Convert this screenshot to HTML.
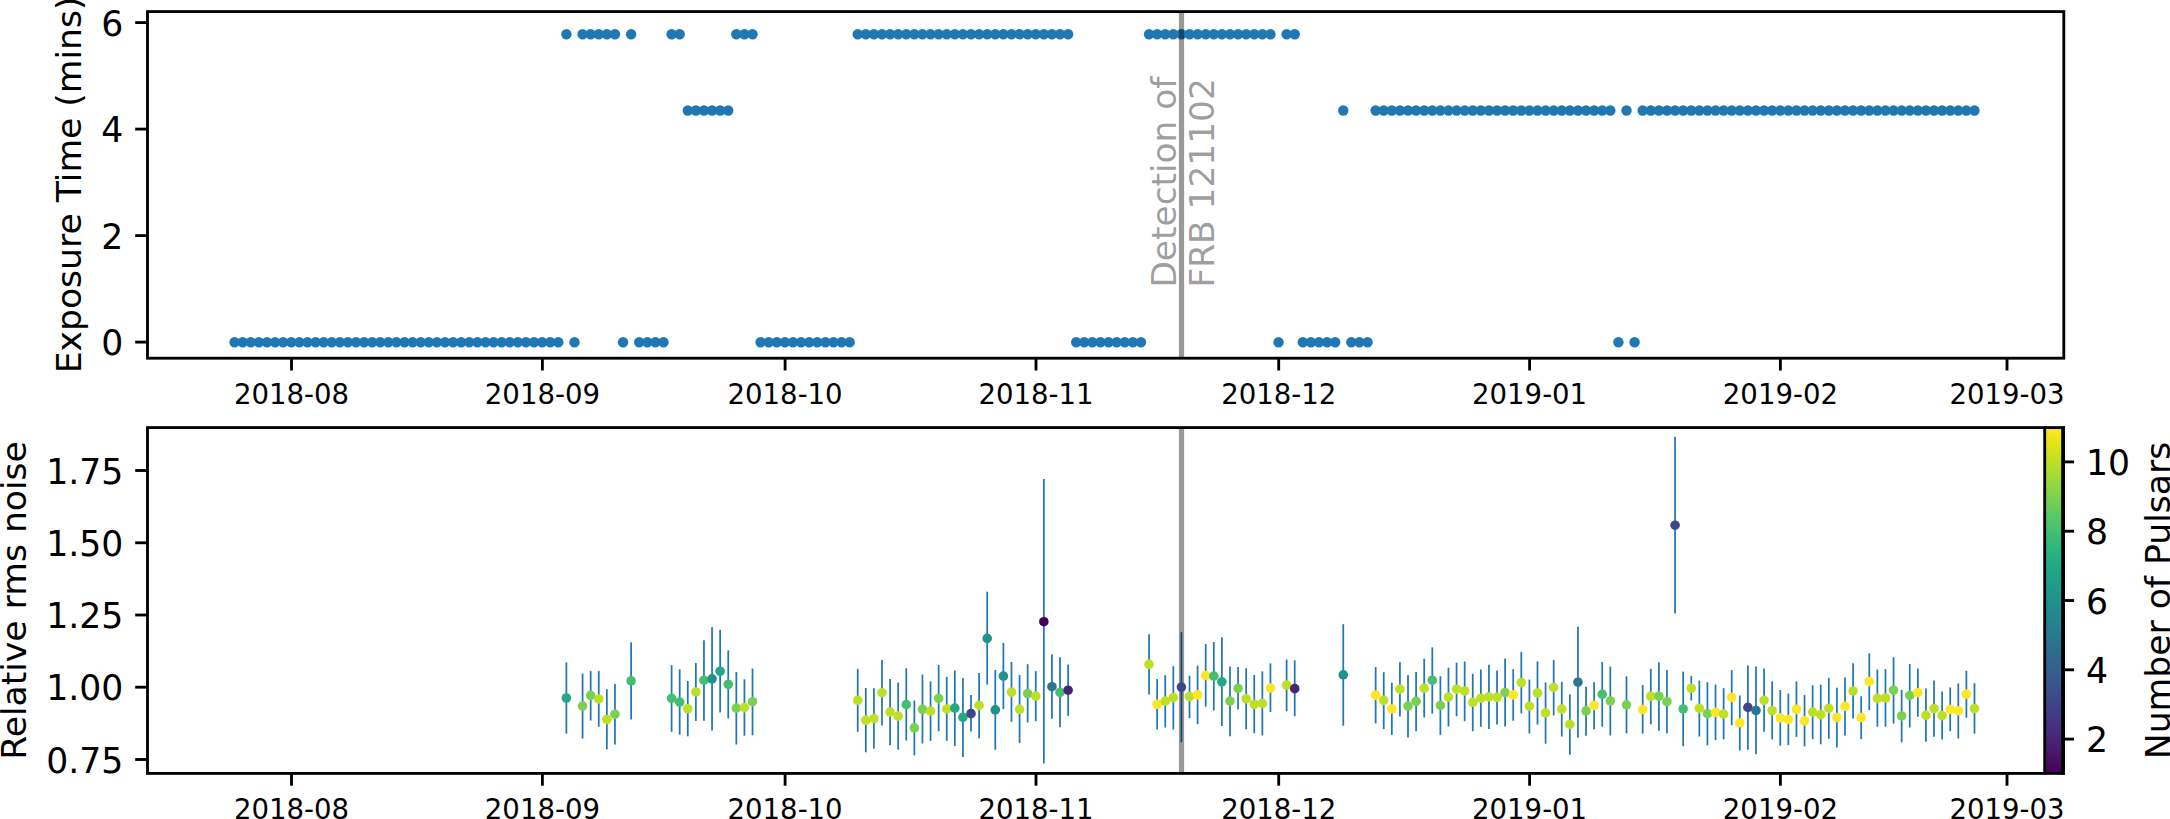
<!DOCTYPE html>
<html lang="en"><head><meta charset="utf-8"><title>Exposure time and relative rms noise</title>
<style>html,body{margin:0;padding:0;background:#fff}body{width:2170px;height:819px;overflow:hidden}svg{display:block}</style></head>
<body>
<svg width="2170" height="819" viewBox="0 0 2170 819" font-family="'DejaVu Sans', 'Liberation Sans', sans-serif">
<rect width="2170" height="819" fill="#fff"/>
<g fill="#1f77b4">
<circle cx="234.60" cy="342.2" r="5.2"/>
<circle cx="242.69" cy="342.2" r="5.2"/>
<circle cx="250.78" cy="342.2" r="5.2"/>
<circle cx="258.88" cy="342.2" r="5.2"/>
<circle cx="266.97" cy="342.2" r="5.2"/>
<circle cx="275.06" cy="342.2" r="5.2"/>
<circle cx="283.15" cy="342.2" r="5.2"/>
<circle cx="291.25" cy="342.2" r="5.2"/>
<circle cx="299.34" cy="342.2" r="5.2"/>
<circle cx="307.43" cy="342.2" r="5.2"/>
<circle cx="315.52" cy="342.2" r="5.2"/>
<circle cx="323.62" cy="342.2" r="5.2"/>
<circle cx="331.71" cy="342.2" r="5.2"/>
<circle cx="339.80" cy="342.2" r="5.2"/>
<circle cx="347.89" cy="342.2" r="5.2"/>
<circle cx="355.99" cy="342.2" r="5.2"/>
<circle cx="364.08" cy="342.2" r="5.2"/>
<circle cx="372.17" cy="342.2" r="5.2"/>
<circle cx="380.26" cy="342.2" r="5.2"/>
<circle cx="388.36" cy="342.2" r="5.2"/>
<circle cx="396.45" cy="342.2" r="5.2"/>
<circle cx="404.54" cy="342.2" r="5.2"/>
<circle cx="412.63" cy="342.2" r="5.2"/>
<circle cx="420.73" cy="342.2" r="5.2"/>
<circle cx="428.82" cy="342.2" r="5.2"/>
<circle cx="436.91" cy="342.2" r="5.2"/>
<circle cx="445.00" cy="342.2" r="5.2"/>
<circle cx="453.10" cy="342.2" r="5.2"/>
<circle cx="461.19" cy="342.2" r="5.2"/>
<circle cx="469.28" cy="342.2" r="5.2"/>
<circle cx="477.38" cy="342.2" r="5.2"/>
<circle cx="485.47" cy="342.2" r="5.2"/>
<circle cx="493.56" cy="342.2" r="5.2"/>
<circle cx="501.65" cy="342.2" r="5.2"/>
<circle cx="509.75" cy="342.2" r="5.2"/>
<circle cx="517.84" cy="342.2" r="5.2"/>
<circle cx="525.93" cy="342.2" r="5.2"/>
<circle cx="534.02" cy="342.2" r="5.2"/>
<circle cx="542.12" cy="342.2" r="5.2"/>
<circle cx="550.21" cy="342.2" r="5.2"/>
<circle cx="558.30" cy="342.2" r="5.2"/>
<circle cx="574.49" cy="342.2" r="5.2"/>
<circle cx="623.04" cy="342.2" r="5.2"/>
<circle cx="639.22" cy="342.2" r="5.2"/>
<circle cx="647.32" cy="342.2" r="5.2"/>
<circle cx="655.41" cy="342.2" r="5.2"/>
<circle cx="663.50" cy="342.2" r="5.2"/>
<circle cx="760.61" cy="342.2" r="5.2"/>
<circle cx="768.70" cy="342.2" r="5.2"/>
<circle cx="776.80" cy="342.2" r="5.2"/>
<circle cx="784.89" cy="342.2" r="5.2"/>
<circle cx="792.98" cy="342.2" r="5.2"/>
<circle cx="801.07" cy="342.2" r="5.2"/>
<circle cx="809.17" cy="342.2" r="5.2"/>
<circle cx="817.26" cy="342.2" r="5.2"/>
<circle cx="825.35" cy="342.2" r="5.2"/>
<circle cx="833.44" cy="342.2" r="5.2"/>
<circle cx="841.54" cy="342.2" r="5.2"/>
<circle cx="849.63" cy="342.2" r="5.2"/>
<circle cx="1076.22" cy="342.2" r="5.2"/>
<circle cx="1084.31" cy="342.2" r="5.2"/>
<circle cx="1092.40" cy="342.2" r="5.2"/>
<circle cx="1100.50" cy="342.2" r="5.2"/>
<circle cx="1108.59" cy="342.2" r="5.2"/>
<circle cx="1116.68" cy="342.2" r="5.2"/>
<circle cx="1124.77" cy="342.2" r="5.2"/>
<circle cx="1132.87" cy="342.2" r="5.2"/>
<circle cx="1140.96" cy="342.2" r="5.2"/>
<circle cx="1278.53" cy="342.2" r="5.2"/>
<circle cx="1302.81" cy="342.2" r="5.2"/>
<circle cx="1310.90" cy="342.2" r="5.2"/>
<circle cx="1318.99" cy="342.2" r="5.2"/>
<circle cx="1327.09" cy="342.2" r="5.2"/>
<circle cx="1335.18" cy="342.2" r="5.2"/>
<circle cx="1351.36" cy="342.2" r="5.2"/>
<circle cx="1359.46" cy="342.2" r="5.2"/>
<circle cx="1367.55" cy="342.2" r="5.2"/>
<circle cx="1618.42" cy="342.2" r="5.2"/>
<circle cx="1634.60" cy="342.2" r="5.2"/>
<circle cx="687.78" cy="110.5" r="5.2"/>
<circle cx="695.87" cy="110.5" r="5.2"/>
<circle cx="703.96" cy="110.5" r="5.2"/>
<circle cx="712.06" cy="110.5" r="5.2"/>
<circle cx="720.15" cy="110.5" r="5.2"/>
<circle cx="728.24" cy="110.5" r="5.2"/>
<circle cx="1343.27" cy="110.5" r="5.2"/>
<circle cx="1375.64" cy="110.5" r="5.2"/>
<circle cx="1383.73" cy="110.5" r="5.2"/>
<circle cx="1391.83" cy="110.5" r="5.2"/>
<circle cx="1399.92" cy="110.5" r="5.2"/>
<circle cx="1408.01" cy="110.5" r="5.2"/>
<circle cx="1416.10" cy="110.5" r="5.2"/>
<circle cx="1424.20" cy="110.5" r="5.2"/>
<circle cx="1432.29" cy="110.5" r="5.2"/>
<circle cx="1440.38" cy="110.5" r="5.2"/>
<circle cx="1448.47" cy="110.5" r="5.2"/>
<circle cx="1456.57" cy="110.5" r="5.2"/>
<circle cx="1464.66" cy="110.5" r="5.2"/>
<circle cx="1472.75" cy="110.5" r="5.2"/>
<circle cx="1480.84" cy="110.5" r="5.2"/>
<circle cx="1488.94" cy="110.5" r="5.2"/>
<circle cx="1497.03" cy="110.5" r="5.2"/>
<circle cx="1505.12" cy="110.5" r="5.2"/>
<circle cx="1513.21" cy="110.5" r="5.2"/>
<circle cx="1521.31" cy="110.5" r="5.2"/>
<circle cx="1529.40" cy="110.5" r="5.2"/>
<circle cx="1537.49" cy="110.5" r="5.2"/>
<circle cx="1545.58" cy="110.5" r="5.2"/>
<circle cx="1553.68" cy="110.5" r="5.2"/>
<circle cx="1561.77" cy="110.5" r="5.2"/>
<circle cx="1569.86" cy="110.5" r="5.2"/>
<circle cx="1577.95" cy="110.5" r="5.2"/>
<circle cx="1586.05" cy="110.5" r="5.2"/>
<circle cx="1594.14" cy="110.5" r="5.2"/>
<circle cx="1602.23" cy="110.5" r="5.2"/>
<circle cx="1610.32" cy="110.5" r="5.2"/>
<circle cx="1626.51" cy="110.5" r="5.2"/>
<circle cx="1642.69" cy="110.5" r="5.2"/>
<circle cx="1650.79" cy="110.5" r="5.2"/>
<circle cx="1658.88" cy="110.5" r="5.2"/>
<circle cx="1666.97" cy="110.5" r="5.2"/>
<circle cx="1675.06" cy="110.5" r="5.2"/>
<circle cx="1683.16" cy="110.5" r="5.2"/>
<circle cx="1691.25" cy="110.5" r="5.2"/>
<circle cx="1699.34" cy="110.5" r="5.2"/>
<circle cx="1707.43" cy="110.5" r="5.2"/>
<circle cx="1715.53" cy="110.5" r="5.2"/>
<circle cx="1723.62" cy="110.5" r="5.2"/>
<circle cx="1731.71" cy="110.5" r="5.2"/>
<circle cx="1739.80" cy="110.5" r="5.2"/>
<circle cx="1747.90" cy="110.5" r="5.2"/>
<circle cx="1755.99" cy="110.5" r="5.2"/>
<circle cx="1764.08" cy="110.5" r="5.2"/>
<circle cx="1772.17" cy="110.5" r="5.2"/>
<circle cx="1780.27" cy="110.5" r="5.2"/>
<circle cx="1788.36" cy="110.5" r="5.2"/>
<circle cx="1796.45" cy="110.5" r="5.2"/>
<circle cx="1804.54" cy="110.5" r="5.2"/>
<circle cx="1812.64" cy="110.5" r="5.2"/>
<circle cx="1820.73" cy="110.5" r="5.2"/>
<circle cx="1828.82" cy="110.5" r="5.2"/>
<circle cx="1836.91" cy="110.5" r="5.2"/>
<circle cx="1845.01" cy="110.5" r="5.2"/>
<circle cx="1853.10" cy="110.5" r="5.2"/>
<circle cx="1861.19" cy="110.5" r="5.2"/>
<circle cx="1869.28" cy="110.5" r="5.2"/>
<circle cx="1877.38" cy="110.5" r="5.2"/>
<circle cx="1885.47" cy="110.5" r="5.2"/>
<circle cx="1893.56" cy="110.5" r="5.2"/>
<circle cx="1901.65" cy="110.5" r="5.2"/>
<circle cx="1909.75" cy="110.5" r="5.2"/>
<circle cx="1917.84" cy="110.5" r="5.2"/>
<circle cx="1925.93" cy="110.5" r="5.2"/>
<circle cx="1934.02" cy="110.5" r="5.2"/>
<circle cx="1942.12" cy="110.5" r="5.2"/>
<circle cx="1950.21" cy="110.5" r="5.2"/>
<circle cx="1958.30" cy="110.5" r="5.2"/>
<circle cx="1966.39" cy="110.5" r="5.2"/>
<circle cx="1974.49" cy="110.5" r="5.2"/>
<circle cx="566.39" cy="34.2" r="5.2"/>
<circle cx="582.58" cy="34.2" r="5.2"/>
<circle cx="590.67" cy="34.2" r="5.2"/>
<circle cx="598.76" cy="34.2" r="5.2"/>
<circle cx="606.86" cy="34.2" r="5.2"/>
<circle cx="614.95" cy="34.2" r="5.2"/>
<circle cx="631.13" cy="34.2" r="5.2"/>
<circle cx="671.59" cy="34.2" r="5.2"/>
<circle cx="679.69" cy="34.2" r="5.2"/>
<circle cx="736.33" cy="34.2" r="5.2"/>
<circle cx="744.43" cy="34.2" r="5.2"/>
<circle cx="752.52" cy="34.2" r="5.2"/>
<circle cx="857.72" cy="34.2" r="5.2"/>
<circle cx="865.81" cy="34.2" r="5.2"/>
<circle cx="873.91" cy="34.2" r="5.2"/>
<circle cx="882.00" cy="34.2" r="5.2"/>
<circle cx="890.09" cy="34.2" r="5.2"/>
<circle cx="898.18" cy="34.2" r="5.2"/>
<circle cx="906.28" cy="34.2" r="5.2"/>
<circle cx="914.37" cy="34.2" r="5.2"/>
<circle cx="922.46" cy="34.2" r="5.2"/>
<circle cx="930.55" cy="34.2" r="5.2"/>
<circle cx="938.65" cy="34.2" r="5.2"/>
<circle cx="946.74" cy="34.2" r="5.2"/>
<circle cx="954.83" cy="34.2" r="5.2"/>
<circle cx="962.92" cy="34.2" r="5.2"/>
<circle cx="971.02" cy="34.2" r="5.2"/>
<circle cx="979.11" cy="34.2" r="5.2"/>
<circle cx="987.20" cy="34.2" r="5.2"/>
<circle cx="995.29" cy="34.2" r="5.2"/>
<circle cx="1003.39" cy="34.2" r="5.2"/>
<circle cx="1011.48" cy="34.2" r="5.2"/>
<circle cx="1019.57" cy="34.2" r="5.2"/>
<circle cx="1027.66" cy="34.2" r="5.2"/>
<circle cx="1035.76" cy="34.2" r="5.2"/>
<circle cx="1043.85" cy="34.2" r="5.2"/>
<circle cx="1051.94" cy="34.2" r="5.2"/>
<circle cx="1060.03" cy="34.2" r="5.2"/>
<circle cx="1068.13" cy="34.2" r="5.2"/>
<circle cx="1149.05" cy="34.2" r="5.2"/>
<circle cx="1157.14" cy="34.2" r="5.2"/>
<circle cx="1165.24" cy="34.2" r="5.2"/>
<circle cx="1173.33" cy="34.2" r="5.2"/>
<circle cx="1181.42" cy="34.2" r="5.2"/>
<circle cx="1189.51" cy="34.2" r="5.2"/>
<circle cx="1197.61" cy="34.2" r="5.2"/>
<circle cx="1205.70" cy="34.2" r="5.2"/>
<circle cx="1213.79" cy="34.2" r="5.2"/>
<circle cx="1221.88" cy="34.2" r="5.2"/>
<circle cx="1229.98" cy="34.2" r="5.2"/>
<circle cx="1238.07" cy="34.2" r="5.2"/>
<circle cx="1246.16" cy="34.2" r="5.2"/>
<circle cx="1254.25" cy="34.2" r="5.2"/>
<circle cx="1262.35" cy="34.2" r="5.2"/>
<circle cx="1270.44" cy="34.2" r="5.2"/>
<circle cx="1286.62" cy="34.2" r="5.2"/>
<circle cx="1294.72" cy="34.2" r="5.2"/>
</g>
<line x1="1181.5" y1="11.6" x2="1181.5" y2="358.2" stroke="#000" stroke-opacity="0.4" stroke-width="5.2"/>
<g fill="#000" fill-opacity="0.4" font-size="34.38">
<text transform="translate(1175.6 287.6) rotate(-90)">Detection of</text>
<text transform="translate(1213.7 287.6) rotate(-90)">FRB 121102</text>
</g>
<g stroke="#1f77b4" stroke-width="1.75">
<line x1="566.39" y1="662.3" x2="566.39" y2="733.6"/>
<line x1="582.58" y1="673.6" x2="582.58" y2="738.6"/>
<line x1="590.67" y1="671.1" x2="590.67" y2="720.5"/>
<line x1="598.76" y1="671.1" x2="598.76" y2="726.7"/>
<line x1="606.86" y1="689.2" x2="606.86" y2="749.4"/>
<line x1="614.95" y1="684.1" x2="614.95" y2="744.5"/>
<line x1="631.13" y1="642.3" x2="631.13" y2="719.5"/>
<line x1="671.59" y1="665.2" x2="671.59" y2="731.8"/>
<line x1="679.69" y1="669.3" x2="679.69" y2="734.7"/>
<line x1="687.78" y1="681.0" x2="687.78" y2="736.3"/>
<line x1="695.87" y1="663.0" x2="695.87" y2="720.9"/>
<line x1="703.96" y1="640.2" x2="703.96" y2="720.7"/>
<line x1="712.06" y1="627.3" x2="712.06" y2="730.4"/>
<line x1="720.15" y1="629.8" x2="720.15" y2="712.5"/>
<line x1="728.24" y1="650.4" x2="728.24" y2="718.5"/>
<line x1="736.33" y1="672.0" x2="736.33" y2="744.5"/>
<line x1="744.43" y1="679.3" x2="744.43" y2="735.7"/>
<line x1="752.52" y1="668.5" x2="752.52" y2="735.3"/>
<line x1="857.72" y1="668.9" x2="857.72" y2="731.8"/>
<line x1="865.81" y1="688.0" x2="865.81" y2="752.3"/>
<line x1="873.91" y1="688.2" x2="873.91" y2="748.8"/>
<line x1="882.00" y1="659.9" x2="882.00" y2="725.4"/>
<line x1="890.09" y1="679.1" x2="890.09" y2="745.3"/>
<line x1="898.18" y1="682.6" x2="898.18" y2="749.6"/>
<line x1="906.28" y1="668.3" x2="906.28" y2="740.6"/>
<line x1="914.37" y1="700.5" x2="914.37" y2="755.4"/>
<line x1="922.46" y1="674.6" x2="922.46" y2="743.5"/>
<line x1="930.55" y1="681.4" x2="930.55" y2="740.8"/>
<line x1="938.65" y1="665.0" x2="938.65" y2="731.2"/>
<line x1="946.74" y1="676.9" x2="946.74" y2="740.8"/>
<line x1="954.83" y1="670.5" x2="954.83" y2="746.1"/>
<line x1="962.92" y1="677.9" x2="962.92" y2="757.0"/>
<line x1="971.02" y1="695.1" x2="971.02" y2="731.6"/>
<line x1="979.11" y1="673.0" x2="979.11" y2="738.2"/>
<line x1="987.20" y1="591.7" x2="987.20" y2="684.5"/>
<line x1="995.29" y1="669.9" x2="995.29" y2="749.8"/>
<line x1="1003.39" y1="642.9" x2="1003.39" y2="709.1"/>
<line x1="1011.48" y1="661.9" x2="1011.48" y2="721.8"/>
<line x1="1019.57" y1="675.0" x2="1019.57" y2="743.1"/>
<line x1="1027.66" y1="664.2" x2="1027.66" y2="722.4"/>
<line x1="1035.76" y1="671.2" x2="1035.76" y2="721.2"/>
<line x1="1043.85" y1="479.1" x2="1043.85" y2="763.4"/>
<line x1="1051.94" y1="654.6" x2="1051.94" y2="718.7"/>
<line x1="1060.03" y1="657.2" x2="1060.03" y2="727.3"/>
<line x1="1068.13" y1="664.6" x2="1068.13" y2="715.8"/>
<line x1="1149.05" y1="634.3" x2="1149.05" y2="694.5"/>
<line x1="1157.14" y1="679.1" x2="1157.14" y2="729.5"/>
<line x1="1165.24" y1="675.2" x2="1165.24" y2="727.5"/>
<line x1="1173.33" y1="666.2" x2="1173.33" y2="729.6"/>
<line x1="1181.42" y1="632.2" x2="1181.42" y2="742.3"/>
<line x1="1189.51" y1="675.7" x2="1189.51" y2="718.1"/>
<line x1="1197.61" y1="665.6" x2="1197.61" y2="724.2"/>
<line x1="1205.70" y1="644.1" x2="1205.70" y2="706.6"/>
<line x1="1213.79" y1="642.0" x2="1213.79" y2="710.5"/>
<line x1="1221.88" y1="637.3" x2="1221.88" y2="726.1"/>
<line x1="1229.98" y1="666.6" x2="1229.98" y2="736.3"/>
<line x1="1238.07" y1="667.0" x2="1238.07" y2="709.5"/>
<line x1="1246.16" y1="668.3" x2="1246.16" y2="729.3"/>
<line x1="1254.25" y1="675.0" x2="1254.25" y2="733.2"/>
<line x1="1262.35" y1="671.4" x2="1262.35" y2="735.5"/>
<line x1="1270.44" y1="663.4" x2="1270.44" y2="712.1"/>
<line x1="1286.62" y1="659.5" x2="1286.62" y2="711.3"/>
<line x1="1294.72" y1="660.3" x2="1294.72" y2="716.2"/>
<line x1="1343.27" y1="624.2" x2="1343.27" y2="725.7"/>
<line x1="1375.64" y1="667.0" x2="1375.64" y2="723.4"/>
<line x1="1383.73" y1="672.2" x2="1383.73" y2="729.1"/>
<line x1="1391.83" y1="682.6" x2="1391.83" y2="734.9"/>
<line x1="1399.92" y1="662.3" x2="1399.92" y2="716.6"/>
<line x1="1408.01" y1="675.0" x2="1408.01" y2="737.5"/>
<line x1="1416.10" y1="672.0" x2="1416.10" y2="731.2"/>
<line x1="1424.20" y1="658.8" x2="1424.20" y2="717.5"/>
<line x1="1432.29" y1="647.4" x2="1432.29" y2="713.6"/>
<line x1="1440.38" y1="676.3" x2="1440.38" y2="734.9"/>
<line x1="1448.47" y1="667.7" x2="1448.47" y2="726.5"/>
<line x1="1456.57" y1="662.7" x2="1456.57" y2="716.2"/>
<line x1="1464.66" y1="661.5" x2="1464.66" y2="721.1"/>
<line x1="1472.75" y1="673.8" x2="1472.75" y2="731.2"/>
<line x1="1480.84" y1="669.5" x2="1480.84" y2="726.7"/>
<line x1="1488.94" y1="664.8" x2="1488.94" y2="729.1"/>
<line x1="1497.03" y1="670.5" x2="1497.03" y2="724.6"/>
<line x1="1505.12" y1="658.6" x2="1505.12" y2="726.5"/>
<line x1="1513.21" y1="669.1" x2="1513.21" y2="720.7"/>
<line x1="1521.31" y1="651.9" x2="1521.31" y2="713.4"/>
<line x1="1529.40" y1="679.6" x2="1529.40" y2="733.4"/>
<line x1="1537.49" y1="661.3" x2="1537.49" y2="724.6"/>
<line x1="1545.58" y1="682.4" x2="1545.58" y2="743.7"/>
<line x1="1553.68" y1="660.1" x2="1553.68" y2="715.4"/>
<line x1="1561.77" y1="681.8" x2="1561.77" y2="736.5"/>
<line x1="1569.86" y1="694.3" x2="1569.86" y2="754.8"/>
<line x1="1577.95" y1="626.7" x2="1577.95" y2="737.7"/>
<line x1="1586.05" y1="686.7" x2="1586.05" y2="735.7"/>
<line x1="1594.14" y1="682.2" x2="1594.14" y2="729.3"/>
<line x1="1602.23" y1="662.1" x2="1602.23" y2="726.7"/>
<line x1="1610.32" y1="666.6" x2="1610.32" y2="735.5"/>
<line x1="1626.51" y1="676.3" x2="1626.51" y2="733.4"/>
<line x1="1642.69" y1="685.1" x2="1642.69" y2="733.6"/>
<line x1="1650.79" y1="668.7" x2="1650.79" y2="724.2"/>
<line x1="1658.88" y1="662.3" x2="1658.88" y2="730.8"/>
<line x1="1666.97" y1="670.1" x2="1666.97" y2="733.4"/>
<line x1="1675.06" y1="436.8" x2="1675.06" y2="613.5"/>
<line x1="1683.16" y1="671.6" x2="1683.16" y2="746.2"/>
<line x1="1691.25" y1="676.1" x2="1691.25" y2="700.4"/>
<line x1="1699.34" y1="680.6" x2="1699.34" y2="736.5"/>
<line x1="1707.43" y1="682.2" x2="1707.43" y2="745.3"/>
<line x1="1715.53" y1="684.5" x2="1715.53" y2="740.2"/>
<line x1="1723.62" y1="688.2" x2="1723.62" y2="739.4"/>
<line x1="1731.71" y1="670.1" x2="1731.71" y2="725.2"/>
<line x1="1739.80" y1="695.5" x2="1739.80" y2="750.4"/>
<line x1="1747.90" y1="665.4" x2="1747.90" y2="749.8"/>
<line x1="1755.99" y1="666.6" x2="1755.99" y2="754.3"/>
<line x1="1764.08" y1="668.5" x2="1764.08" y2="731.8"/>
<line x1="1772.17" y1="681.4" x2="1772.17" y2="739.4"/>
<line x1="1780.27" y1="690.0" x2="1780.27" y2="745.7"/>
<line x1="1788.36" y1="693.5" x2="1788.36" y2="745.1"/>
<line x1="1796.45" y1="681.4" x2="1796.45" y2="736.9"/>
<line x1="1804.54" y1="695.1" x2="1804.54" y2="746.4"/>
<line x1="1812.64" y1="685.3" x2="1812.64" y2="739.2"/>
<line x1="1820.73" y1="684.7" x2="1820.73" y2="744.3"/>
<line x1="1828.82" y1="677.9" x2="1828.82" y2="738.8"/>
<line x1="1836.91" y1="687.7" x2="1836.91" y2="747.4"/>
<line x1="1845.01" y1="677.5" x2="1845.01" y2="735.5"/>
<line x1="1853.10" y1="663.2" x2="1853.10" y2="718.5"/>
<line x1="1861.19" y1="696.2" x2="1861.19" y2="739.0"/>
<line x1="1869.28" y1="653.3" x2="1869.28" y2="710.1"/>
<line x1="1877.38" y1="669.5" x2="1877.38" y2="726.7"/>
<line x1="1885.47" y1="669.1" x2="1885.47" y2="726.7"/>
<line x1="1893.56" y1="657.2" x2="1893.56" y2="723.6"/>
<line x1="1901.65" y1="689.8" x2="1901.65" y2="742.3"/>
<line x1="1909.75" y1="664.0" x2="1909.75" y2="727.5"/>
<line x1="1917.84" y1="668.5" x2="1917.84" y2="716.8"/>
<line x1="1925.93" y1="688.6" x2="1925.93" y2="741.8"/>
<line x1="1934.02" y1="680.4" x2="1934.02" y2="736.7"/>
<line x1="1942.12" y1="691.6" x2="1942.12" y2="739.4"/>
<line x1="1950.21" y1="687.5" x2="1950.21" y2="731.2"/>
<line x1="1958.30" y1="683.4" x2="1958.30" y2="738.4"/>
<line x1="1966.39" y1="670.7" x2="1966.39" y2="717.7"/>
<line x1="1974.49" y1="683.2" x2="1974.49" y2="733.6"/>
</g>
<line x1="1181.5" y1="427.6" x2="1181.5" y2="773.4" stroke="#000" stroke-opacity="0.4" stroke-width="5.2"/>
<circle cx="566.39" cy="698.01" r="4.8" fill="#22a884"/>
<circle cx="582.58" cy="706.02" r="4.8" fill="#7ad151"/>
<circle cx="590.67" cy="695.47" r="4.8" fill="#7ad151"/>
<circle cx="598.76" cy="698.98" r="4.8" fill="#bddf26"/>
<circle cx="606.86" cy="719.49" r="4.8" fill="#bddf26"/>
<circle cx="614.95" cy="714.22" r="4.8" fill="#7ad151"/>
<circle cx="631.13" cy="680.82" r="4.8" fill="#44bf70"/>
<circle cx="671.59" cy="698.40" r="4.8" fill="#44bf70"/>
<circle cx="679.69" cy="702.11" r="4.8" fill="#44bf70"/>
<circle cx="687.78" cy="708.75" r="4.8" fill="#bddf26"/>
<circle cx="695.87" cy="691.95" r="4.8" fill="#bddf26"/>
<circle cx="703.96" cy="680.23" r="4.8" fill="#44bf70"/>
<circle cx="712.06" cy="678.87" r="4.8" fill="#21918c"/>
<circle cx="720.15" cy="671.25" r="4.8" fill="#22a884"/>
<circle cx="728.24" cy="684.34" r="4.8" fill="#44bf70"/>
<circle cx="736.33" cy="708.16" r="4.8" fill="#7ad151"/>
<circle cx="744.43" cy="707.58" r="4.8" fill="#bddf26"/>
<circle cx="752.52" cy="701.72" r="4.8" fill="#7ad151"/>
<circle cx="857.72" cy="700.35" r="4.8" fill="#bddf26"/>
<circle cx="865.81" cy="720.27" r="4.8" fill="#bddf26"/>
<circle cx="873.91" cy="718.52" r="4.8" fill="#bddf26"/>
<circle cx="882.00" cy="692.73" r="4.8" fill="#bddf26"/>
<circle cx="890.09" cy="712.07" r="4.8" fill="#bddf26"/>
<circle cx="898.18" cy="716.17" r="4.8" fill="#bddf26"/>
<circle cx="906.28" cy="704.65" r="4.8" fill="#44bf70"/>
<circle cx="914.37" cy="727.89" r="4.8" fill="#7ad151"/>
<circle cx="922.46" cy="709.34" r="4.8" fill="#7ad151"/>
<circle cx="930.55" cy="711.09" r="4.8" fill="#bddf26"/>
<circle cx="938.65" cy="698.40" r="4.8" fill="#7ad151"/>
<circle cx="946.74" cy="708.95" r="4.8" fill="#bddf26"/>
<circle cx="954.83" cy="708.16" r="4.8" fill="#22a884"/>
<circle cx="962.92" cy="717.34" r="4.8" fill="#22a884"/>
<circle cx="971.02" cy="713.63" r="4.8" fill="#414487"/>
<circle cx="979.11" cy="705.43" r="4.8" fill="#bddf26"/>
<circle cx="987.20" cy="638.40" r="4.8" fill="#21918c"/>
<circle cx="995.29" cy="709.92" r="4.8" fill="#21918c"/>
<circle cx="1003.39" cy="676.13" r="4.8" fill="#21918c"/>
<circle cx="1011.48" cy="692.15" r="4.8" fill="#bddf26"/>
<circle cx="1019.57" cy="709.34" r="4.8" fill="#bddf26"/>
<circle cx="1027.66" cy="693.52" r="4.8" fill="#7ad151"/>
<circle cx="1035.76" cy="696.05" r="4.8" fill="#bddf26"/>
<circle cx="1043.85" cy="621.70" r="4.8" fill="#440154"/>
<circle cx="1051.94" cy="686.68" r="4.8" fill="#2a788e"/>
<circle cx="1060.03" cy="692.34" r="4.8" fill="#44bf70"/>
<circle cx="1068.13" cy="690.20" r="4.8" fill="#482475"/>
<circle cx="1149.05" cy="664.41" r="4.8" fill="#bddf26"/>
<circle cx="1157.14" cy="704.26" r="4.8" fill="#fde725"/>
<circle cx="1165.24" cy="701.13" r="4.8" fill="#bddf26"/>
<circle cx="1173.33" cy="697.62" r="4.8" fill="#bddf26"/>
<circle cx="1181.42" cy="687.07" r="4.8" fill="#414487"/>
<circle cx="1189.51" cy="696.64" r="4.8" fill="#bddf26"/>
<circle cx="1197.61" cy="694.88" r="4.8" fill="#fde725"/>
<circle cx="1205.70" cy="675.55" r="4.8" fill="#fde725"/>
<circle cx="1213.79" cy="676.13" r="4.8" fill="#44bf70"/>
<circle cx="1221.88" cy="681.80" r="4.8" fill="#22a884"/>
<circle cx="1229.98" cy="701.13" r="4.8" fill="#7ad151"/>
<circle cx="1238.07" cy="688.44" r="4.8" fill="#7ad151"/>
<circle cx="1246.16" cy="698.79" r="4.8" fill="#bddf26"/>
<circle cx="1254.25" cy="704.26" r="4.8" fill="#bddf26"/>
<circle cx="1262.35" cy="703.48" r="4.8" fill="#bddf26"/>
<circle cx="1270.44" cy="688.05" r="4.8" fill="#fde725"/>
<circle cx="1286.62" cy="685.12" r="4.8" fill="#bddf26"/>
<circle cx="1294.72" cy="688.63" r="4.8" fill="#482475"/>
<circle cx="1343.27" cy="674.77" r="4.8" fill="#21918c"/>
<circle cx="1375.64" cy="695.08" r="4.8" fill="#fde725"/>
<circle cx="1383.73" cy="700.35" r="4.8" fill="#bddf26"/>
<circle cx="1391.83" cy="708.95" r="4.8" fill="#fde725"/>
<circle cx="1399.92" cy="689.22" r="4.8" fill="#bddf26"/>
<circle cx="1408.01" cy="706.02" r="4.8" fill="#7ad151"/>
<circle cx="1416.10" cy="701.33" r="4.8" fill="#7ad151"/>
<circle cx="1424.20" cy="688.24" r="4.8" fill="#bddf26"/>
<circle cx="1432.29" cy="680.23" r="4.8" fill="#44bf70"/>
<circle cx="1440.38" cy="705.43" r="4.8" fill="#7ad151"/>
<circle cx="1448.47" cy="697.03" r="4.8" fill="#bddf26"/>
<circle cx="1456.57" cy="689.22" r="4.8" fill="#bddf26"/>
<circle cx="1464.66" cy="690.98" r="4.8" fill="#bddf26"/>
<circle cx="1472.75" cy="702.30" r="4.8" fill="#bddf26"/>
<circle cx="1480.84" cy="698.20" r="4.8" fill="#bddf26"/>
<circle cx="1488.94" cy="696.84" r="4.8" fill="#bddf26"/>
<circle cx="1497.03" cy="697.42" r="4.8" fill="#bddf26"/>
<circle cx="1505.12" cy="692.54" r="4.8" fill="#7ad151"/>
<circle cx="1513.21" cy="694.88" r="4.8" fill="#fde725"/>
<circle cx="1521.31" cy="682.58" r="4.8" fill="#bddf26"/>
<circle cx="1529.40" cy="706.21" r="4.8" fill="#bddf26"/>
<circle cx="1537.49" cy="692.93" r="4.8" fill="#bddf26"/>
<circle cx="1545.58" cy="712.85" r="4.8" fill="#bddf26"/>
<circle cx="1553.68" cy="687.46" r="4.8" fill="#bddf26"/>
<circle cx="1561.77" cy="709.14" r="4.8" fill="#bddf26"/>
<circle cx="1569.86" cy="724.38" r="4.8" fill="#bddf26"/>
<circle cx="1577.95" cy="682.19" r="4.8" fill="#2a788e"/>
<circle cx="1586.05" cy="710.90" r="4.8" fill="#7ad151"/>
<circle cx="1594.14" cy="705.43" r="4.8" fill="#fde725"/>
<circle cx="1602.23" cy="694.30" r="4.8" fill="#44bf70"/>
<circle cx="1610.32" cy="700.94" r="4.8" fill="#7ad151"/>
<circle cx="1626.51" cy="704.84" r="4.8" fill="#7ad151"/>
<circle cx="1642.69" cy="709.53" r="4.8" fill="#fde725"/>
<circle cx="1650.79" cy="696.25" r="4.8" fill="#bddf26"/>
<circle cx="1658.88" cy="696.25" r="4.8" fill="#7ad151"/>
<circle cx="1666.97" cy="701.72" r="4.8" fill="#7ad151"/>
<circle cx="1675.06" cy="525.20" r="4.8" fill="#414487"/>
<circle cx="1683.16" cy="708.95" r="4.8" fill="#44bf70"/>
<circle cx="1691.25" cy="688.24" r="4.8" fill="#bddf26"/>
<circle cx="1699.34" cy="708.36" r="4.8" fill="#bddf26"/>
<circle cx="1707.43" cy="713.63" r="4.8" fill="#7ad151"/>
<circle cx="1715.53" cy="712.27" r="4.8" fill="#fde725"/>
<circle cx="1723.62" cy="714.02" r="4.8" fill="#bddf26"/>
<circle cx="1731.71" cy="697.42" r="4.8" fill="#fde725"/>
<circle cx="1739.80" cy="722.81" r="4.8" fill="#fde725"/>
<circle cx="1747.90" cy="707.38" r="4.8" fill="#414487"/>
<circle cx="1755.99" cy="710.51" r="4.8" fill="#2a788e"/>
<circle cx="1764.08" cy="700.35" r="4.8" fill="#bddf26"/>
<circle cx="1772.17" cy="710.51" r="4.8" fill="#bddf26"/>
<circle cx="1780.27" cy="717.93" r="4.8" fill="#fde725"/>
<circle cx="1788.36" cy="719.49" r="4.8" fill="#fde725"/>
<circle cx="1796.45" cy="709.34" r="4.8" fill="#fde725"/>
<circle cx="1804.54" cy="720.86" r="4.8" fill="#fde725"/>
<circle cx="1812.64" cy="712.07" r="4.8" fill="#bddf26"/>
<circle cx="1820.73" cy="714.61" r="4.8" fill="#bddf26"/>
<circle cx="1828.82" cy="708.36" r="4.8" fill="#bddf26"/>
<circle cx="1836.91" cy="717.54" r="4.8" fill="#fde725"/>
<circle cx="1845.01" cy="706.41" r="4.8" fill="#fde725"/>
<circle cx="1853.10" cy="690.98" r="4.8" fill="#bddf26"/>
<circle cx="1861.19" cy="717.54" r="4.8" fill="#fde725"/>
<circle cx="1869.28" cy="681.60" r="4.8" fill="#fde725"/>
<circle cx="1877.38" cy="698.40" r="4.8" fill="#bddf26"/>
<circle cx="1885.47" cy="698.01" r="4.8" fill="#bddf26"/>
<circle cx="1893.56" cy="690.20" r="4.8" fill="#7ad151"/>
<circle cx="1901.65" cy="715.98" r="4.8" fill="#7ad151"/>
<circle cx="1909.75" cy="695.47" r="4.8" fill="#7ad151"/>
<circle cx="1917.84" cy="692.73" r="4.8" fill="#fde725"/>
<circle cx="1925.93" cy="715.39" r="4.8" fill="#bddf26"/>
<circle cx="1934.02" cy="708.55" r="4.8" fill="#bddf26"/>
<circle cx="1942.12" cy="715.59" r="4.8" fill="#bddf26"/>
<circle cx="1950.21" cy="709.53" r="4.8" fill="#fde725"/>
<circle cx="1958.30" cy="710.70" r="4.8" fill="#fde725"/>
<circle cx="1966.39" cy="694.10" r="4.8" fill="#fde725"/>
<circle cx="1974.49" cy="708.55" r="4.8" fill="#bddf26"/>
<defs><linearGradient id="vg" x1="0" y1="1" x2="0" y2="0">
<stop offset="0.000%" stop-color="#440154"/>
<stop offset="3.125%" stop-color="#470d60"/>
<stop offset="6.250%" stop-color="#48186a"/>
<stop offset="9.375%" stop-color="#482374"/>
<stop offset="12.500%" stop-color="#472d7b"/>
<stop offset="15.625%" stop-color="#453781"/>
<stop offset="18.750%" stop-color="#424086"/>
<stop offset="21.875%" stop-color="#3e4989"/>
<stop offset="25.000%" stop-color="#3b528b"/>
<stop offset="28.125%" stop-color="#375b8d"/>
<stop offset="31.250%" stop-color="#33638d"/>
<stop offset="34.375%" stop-color="#2f6b8e"/>
<stop offset="37.500%" stop-color="#2c728e"/>
<stop offset="40.625%" stop-color="#297a8e"/>
<stop offset="43.750%" stop-color="#26828e"/>
<stop offset="46.875%" stop-color="#23898e"/>
<stop offset="50.000%" stop-color="#21918c"/>
<stop offset="53.125%" stop-color="#1f988b"/>
<stop offset="56.250%" stop-color="#1fa088"/>
<stop offset="59.375%" stop-color="#22a785"/>
<stop offset="62.500%" stop-color="#28ae80"/>
<stop offset="65.625%" stop-color="#32b67a"/>
<stop offset="68.750%" stop-color="#3fbc73"/>
<stop offset="71.875%" stop-color="#4ec36b"/>
<stop offset="75.000%" stop-color="#5ec962"/>
<stop offset="78.125%" stop-color="#70cf57"/>
<stop offset="81.250%" stop-color="#84d44b"/>
<stop offset="84.375%" stop-color="#98d83e"/>
<stop offset="87.500%" stop-color="#addc30"/>
<stop offset="90.625%" stop-color="#c2df23"/>
<stop offset="93.750%" stop-color="#d8e219"/>
<stop offset="96.875%" stop-color="#ece51b"/>
<stop offset="100.000%" stop-color="#fde725"/>
</linearGradient></defs>
<rect x="2044.7" y="427.6" width="18.4" height="345.8" fill="url(#vg)"/>
<g stroke="#000" stroke-width="2.85" fill="none" stroke-linecap="butt">
<rect x="147.5" y="11.6" width="1916.3" height="346.6"/>
<rect x="147.5" y="427.6" width="1897.2" height="345.8"/>
<line x1="2044.65" y1="427.6" x2="2065.00" y2="427.6"/>
<line x1="2044.65" y1="773.4" x2="2065.00" y2="773.4"/>
<line x1="2063.10" y1="426.2" x2="2063.10" y2="774.8" stroke-width="3.8"/>
<line x1="291.5" y1="358.2" x2="291.5" y2="370.5"/>
<line x1="291.5" y1="773.4" x2="291.5" y2="785.7"/>
<line x1="542.4" y1="358.2" x2="542.4" y2="370.5"/>
<line x1="542.4" y1="773.4" x2="542.4" y2="785.7"/>
<line x1="785.1" y1="358.2" x2="785.1" y2="370.5"/>
<line x1="785.1" y1="773.4" x2="785.1" y2="785.7"/>
<line x1="1036.0" y1="358.2" x2="1036.0" y2="370.5"/>
<line x1="1036.0" y1="773.4" x2="1036.0" y2="785.7"/>
<line x1="1278.7" y1="358.2" x2="1278.7" y2="370.5"/>
<line x1="1278.7" y1="773.4" x2="1278.7" y2="785.7"/>
<line x1="1529.6" y1="358.2" x2="1529.6" y2="370.5"/>
<line x1="1529.6" y1="773.4" x2="1529.6" y2="785.7"/>
<line x1="1780.4" y1="358.2" x2="1780.4" y2="370.5"/>
<line x1="1780.4" y1="773.4" x2="1780.4" y2="785.7"/>
<line x1="2007.0" y1="358.2" x2="2007.0" y2="370.5"/>
<line x1="2007.0" y1="773.4" x2="2007.0" y2="785.7"/>
<line x1="135.2" y1="22.6" x2="147.5" y2="22.6"/>
<line x1="135.2" y1="129.1" x2="147.5" y2="129.1"/>
<line x1="135.2" y1="235.6" x2="147.5" y2="235.6"/>
<line x1="135.2" y1="342.1" x2="147.5" y2="342.1"/>
<line x1="135.2" y1="470.5" x2="147.5" y2="470.5"/>
<line x1="135.2" y1="542.8" x2="147.5" y2="542.8"/>
<line x1="135.2" y1="615.0" x2="147.5" y2="615.0"/>
<line x1="135.2" y1="687.2" x2="147.5" y2="687.2"/>
<line x1="135.2" y1="759.5" x2="147.5" y2="759.5"/>
<line x1="2063.1" y1="461.9" x2="2074.1" y2="461.9"/>
<line x1="2063.1" y1="531.2" x2="2074.1" y2="531.2"/>
<line x1="2063.1" y1="600.5" x2="2074.1" y2="600.5"/>
<line x1="2063.1" y1="669.8" x2="2074.1" y2="669.8"/>
<line x1="2063.1" y1="739.1" x2="2074.1" y2="739.1"/>
</g>
<g fill="#000" font-size="27.55" text-anchor="middle">
<text x="291.5" y="403.6">2018-08</text>
<text x="291.5" y="818.9">2018-08</text>
<text x="542.4" y="403.6">2018-09</text>
<text x="542.4" y="818.9">2018-09</text>
<text x="785.1" y="403.6">2018-10</text>
<text x="785.1" y="818.9">2018-10</text>
<text x="1036.0" y="403.6">2018-11</text>
<text x="1036.0" y="818.9">2018-11</text>
<text x="1278.7" y="403.6">2018-12</text>
<text x="1278.7" y="818.9">2018-12</text>
<text x="1529.6" y="403.6">2019-01</text>
<text x="1529.6" y="818.9">2019-01</text>
<text x="1780.4" y="403.6">2019-02</text>
<text x="1780.4" y="818.9">2019-02</text>
<text x="2007.0" y="403.6">2019-03</text>
<text x="2007.0" y="818.9">2019-03</text>
</g>
<g fill="#000" font-size="34.62" text-anchor="end">
<text x="123.4" y="35.7">6</text>
<text x="123.4" y="142.2">4</text>
<text x="123.4" y="248.7">2</text>
<text x="123.4" y="355.2">0</text>
<text x="123.4" y="483.6">1.75</text>
<text x="123.4" y="555.9">1.50</text>
<text x="123.4" y="628.1">1.25</text>
<text x="123.4" y="700.4">1.00</text>
<text x="123.4" y="772.6">0.75</text>
</g>
<g fill="#000" font-size="34.62" text-anchor="start">
<text x="2086.0" y="475.0">10</text>
<text x="2086.0" y="544.3">8</text>
<text x="2086.0" y="613.6">6</text>
<text x="2086.0" y="682.9">4</text>
<text x="2086.0" y="752.2">2</text>
</g>
<g fill="#000" font-size="34.59" text-anchor="middle">
<text transform="translate(80.8 184.9) rotate(-90)">Exposure Time (mins)</text>
<text transform="translate(26.4 600.5) rotate(-90)">Relative rms noise</text>
<text transform="translate(2170.3 600.5) rotate(-90)">Number of Pulsars</text>
</g>
</svg>
</body></html>
